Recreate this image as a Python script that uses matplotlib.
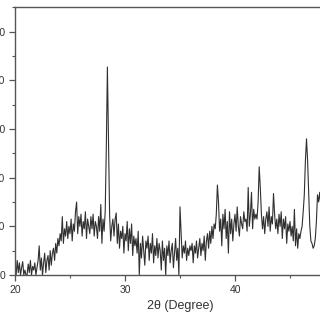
import numpy as np
import matplotlib
matplotlib.use("Agg")
import matplotlib.pyplot as plt
from matplotlib.ticker import MultipleLocator

two_theta_start = 20.0
two_theta_step = 0.1

intensity = [
    40, 0, 60, 10, 50, 0, 30, 55, 0, 20,
    0, 0, 45, 10, 60, 0, 35, 20, 50, 0,
    30, 60, 120, 20, 70, 0, 50, 90, 10, 60,
    80, 20, 100, 40, 90, 110, 60, 130, 90, 150,
    120, 170, 140, 240, 130, 190, 160, 220, 150, 200,
    170, 230, 140, 210, 180, 260, 300, 170, 240, 200,
    250, 160, 220, 190, 260, 150, 230, 200, 170, 240,
    190, 250, 160, 220, 200, 150, 240, 180, 290, 130,
    230, 180, 260, 520, 855, 560, 250, 140, 200, 230,
    160, 230, 255, 130, 210, 110, 180, 150, 200, 90,
    170, 140, 220, 100, 190, 130, 210, 80, 160, 120,
    150, 90, 180, 0, 130, 70, 160, 100, 40, 140,
    110, 160, 60, 130, 90, 170, 50, 120, 80, 150,
    70, 130, 100, 20, 140, 60, 110, 0, 120, 80,
    140, 50, 100, 130, 30, 90, 150, 60, 110, 0,
    280, 170, 70, 120, 90, 140, 60, 110, 80, 120,
    100, 130, 50, 120, 90, 140, 70, 110, 150, 80,
    130, 100, 160, 60, 140, 170, 110, 180, 130, 200,
    150, 210, 190, 250, 370, 300, 180, 230, 120, 250,
    190, 270, 150, 220, 90, 260, 170, 230, 140, 210,
    250, 180, 280, 200, 160, 240, 210, 190, 260, 220,
    230, 180, 360, 200, 250, 340, 190, 270, 230, 250,
    230, 300, 445, 360, 250, 190, 240, 170, 230, 260,
    200, 280, 180, 240, 210, 335, 250, 190, 230, 170,
    250, 200, 260, 150, 230, 190, 240, 130, 210, 180,
    220, 160, 200, 140, 270, 120, 190, 110, 170, 150,
    180, 200, 260, 330, 470, 560, 470, 330, 200, 140,
    130, 110, 120, 150, 220, 330, 300, 340, 290, 320,
    300,
]

x_ticks = [20, 30, 40]
x_tick_labels = ["20", "30", "40"]
y_ticks = [0, 200, 400, 600, 800, 1000]
y_tick_labels = ["0", "200", "400", "600", "800", "1000"]

two_theta = two_theta_start + two_theta_step * np.arange(len(intensity))

plt.rcParams['font.family'] = ['Liberation Sans', 'DejaVu Sans']

fig = plt.figure(figsize=(3.2, 3.2), dpi=100)
ax = fig.add_axes([15/320, 45/320, 330/320, 268/320])
ax.plot(two_theta, intensity, color="#303030", linewidth=0.8)

ax.set_xlim(20, 50)
ax.set_ylim(0, 1102)
ax.set_xticks(x_ticks)
ax.set_xticklabels(x_tick_labels)
ax.set_yticks(y_ticks)
ax.set_yticklabels(y_tick_labels)
ax.xaxis.set_minor_locator(MultipleLocator(5))
ax.yaxis.set_minor_locator(MultipleLocator(100))

for s in ax.spines.values():
    s.set_color("#555555")
    s.set_linewidth(1.0)

ax.tick_params(which="major", direction="out", length=4, width=0.9, color="#555555",
               labelsize=7.5, labelcolor="#333333", pad=3)
ax.tick_params(which="minor", direction="out", length=2.5, width=0.8, color="#555555")

ax.set_xlabel("2θ (Degree)", fontsize=9, color="#333333", labelpad=4)

fig.savefig("out.png", dpi=100)
